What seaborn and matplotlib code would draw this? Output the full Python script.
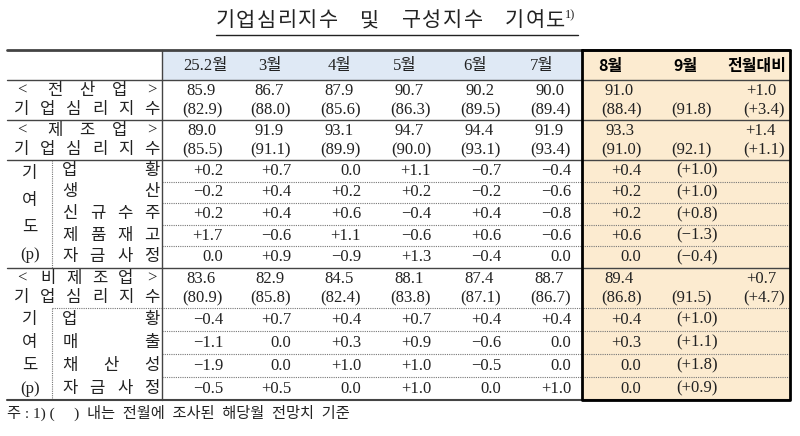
import matplotlib.pyplot as plt
import seaborn as sns

sns.set_theme(style="white")
plt.rcParams['font.family'] = ['Liberation Serif', 'Noto Sans CJK KR', 'DejaVu Sans']

months = ['25.2월', '3월', '4월', '5월', '6월', '7월']
recent = ['8월', '9월', '전월대비']

all_idx = ['85.9', '86.7', '87.9', '90.7', '90.2', '90.0']
all_fc = ['(82.9)', '(88.0)', '(85.6)', '(86.3)', '(89.5)', '(89.4)']
all_recent = ['91.0', '(88.4)', '(91.8)', '+1.0', '(+3.4)']

mfg_idx = ['89.0', '91.9', '93.1', '94.7', '94.4', '91.9']
mfg_fc = ['(85.5)', '(91.1)', '(89.9)', '(90.0)', '(93.1)', '(93.4)']
mfg_recent = ['93.3', '(91.0)', '(92.1)', '+1.4', '(+1.1)']

mfg_items = ['업황', '생산', '신규수주', '제품재고', '자금사정']
mfg_contrib = [
    ['+0.2', '+0.7', '0.0', '+1.1', '−0.7', '−0.4', '+0.4', '(+1.0)'],
    ['−0.2', '+0.4', '+0.2', '+0.2', '−0.2', '−0.6', '+0.2', '(+1.0)'],
    ['+0.2', '+0.4', '+0.6', '−0.4', '+0.4', '−0.8', '+0.2', '(+0.8)'],
    ['+1.7', '−0.6', '+1.1', '−0.6', '+0.6', '−0.6', '+0.6', '(−1.3)'],
    ['0.0', '+0.9', '−0.9', '+1.3', '−0.4', '0.0', '0.0', '(−0.4)'],
]

non_idx = ['83.6', '82.9', '84.5', '88.1', '87.4', '88.7']
non_fc = ['(80.9)', '(85.8)', '(82.4)', '(83.8)', '(87.1)', '(86.7)']
non_recent = ['89.4', '(86.8)', '(91.5)', '+0.7', '(+4.7)']

non_items = ['업황', '매출', '채산성', '자금사정']
non_contrib = [
    ['−0.4', '+0.7', '+0.4', '+0.7', '+0.4', '+0.4', '+0.4', '(+1.0)'],
    ['−1.1', '0.0', '+0.3', '+0.9', '−0.6', '0.0', '+0.3', '(+1.1)'],
    ['−1.9', '0.0', '+1.0', '+1.0', '−0.5', '0.0', '0.0', '(+1.8)'],
    ['−0.5', '+0.5', '0.0', '+1.0', '0.0', '+1.0', '0.0', '(+0.9)'],
]

fig = plt.figure(figsize=(8, 4.36), dpi=100)
ax = fig.add_axes([0, 0, 1, 1])
ax.set_xlim(0, 800)
ax.set_ylim(436, 0)
ax.axis('off')

FS = 12
ink = '#222222'
col_r = [223, 291, 361, 431, 501, 571]
col_c = [206, 270, 340, 405, 475, 542]

# backgrounds
ax.fill_between([162, 582], 50, 80, color='#dfe9f5', lw=0)
ax.fill_between([582, 790], 50, 400, color='#fcebd0', lw=0)

# title, letters spread out
title = '기업심리지수 및 구성지수 기여도'
tx0, tx1 = 225, 556
n = len(title)
for i, ch in enumerate(title):
    ax.text(tx0 + (tx1 - tx0) * i / (n - 1), 22, ch, ha='center', va='center',
            fontsize=15, color=ink)
ax.text(565, 15, '1)', ha='left', va='center', fontsize=9, color=ink)
ax.plot([216, 578], [35, 35], color=ink, lw=1)

# header
for c, m in zip(col_c, months):
    ax.text(c, 66, m, ha='center', va='center', fontsize=FS, color=ink)
for c, m in zip([610, 685, 757], recent):
    ax.text(c, 66, m, ha='center', va='center', fontsize=FS - 0.5, color='black',
            fontweight='bold', family=['Noto Sans CJK KR'])


def spread(text, x0, x1, y):
    n = len(text)
    for i, ch in enumerate(text):
        x = x0 + (x1 - x0) * i / (n - 1)
        ax.text(x, y, ch, ha='center', va='center', fontsize=FS, color=ink)


def index_block(y, title, idx, fc, rec):
    spread(['<'] + list(title) + ['>'], 22, 152, y + 11)
    spread('기업심리지수', 22, 152, y + 30)
    for r, a, b in zip(col_r, idx, fc):
        ax.text(r - 7, y + 11, a, ha='right', va='center', fontsize=FS, color=ink)
        ax.text(r, y + 30, b, ha='right', va='center', fontsize=FS, color=ink)
    ax.text(634, y + 11, rec[0], ha='right', va='center', fontsize=FS, color=ink)
    ax.text(642, y + 30, rec[1], ha='right', va='center', fontsize=FS, color=ink)
    ax.text(712, y + 30, rec[2], ha='right', va='center', fontsize=FS, color=ink)
    ax.text(776, y + 11, rec[3], ha='right', va='center', fontsize=FS, color=ink)
    ax.text(785, y + 30, rec[4], ha='right', va='center', fontsize=FS, color=ink)


def contrib_block(y0, h, items, vals):
    for i, (name, row) in enumerate(zip(items, vals)):
        yc = y0 + h * (i + 0.5)
        spread(name, 70, 152, yc)
        for r, v in zip(col_r, row[:6]):
            ax.text(r, yc, v, ha='right', va='center', fontsize=FS, color=ink)
        ax.text(641, yc, row[6], ha='right', va='center', fontsize=FS, color=ink)
        ax.text(718, yc, row[7], ha='right', va='center', fontsize=FS, color=ink)
        if i < len(items) - 1:
            ax.plot([162, 790], [y0 + h * (i + 1)] * 2, color='#777777', lw=0.8,
                    ls=(0, (1, 1)))
    n = len(items)
    for j, ch in enumerate(['기', '여', '도', '(p)']):
        yc = y0 + (h * n) * (j + 0.5) / 4
        ax.text(30, yc, ch, ha='center', va='center', fontsize=FS, color=ink)
    ax.plot([52, 52], [y0, y0 + h * n], color='#777777', lw=0.8, ls=(0, (1, 1)))


index_block(80, '전산업', all_idx, all_fc, all_recent)
index_block(120, '제조업', mfg_idx, mfg_fc, mfg_recent)
contrib_block(160, 21.6, mfg_items, mfg_contrib)
index_block(268, '비제조업', non_idx, non_fc, non_recent)
contrib_block(308, 23, non_items, non_contrib)

# rules
ax.plot([7, 790], [50, 50], color='#444444', lw=2)
for yy in [80, 120, 160, 268]:
    ax.plot([7, 790], [yy, yy], color='#444444', lw=1)
ax.plot([52, 790], [308, 308], color='#777777', lw=0.8, ls=(0, (1, 1)))
ax.plot([7, 790], [400, 400], color='#444444', lw=1.5)
ax.plot([162, 162], [50, 400], color='#444444', lw=1)
ax.plot([582, 790, 790, 582, 582], [50, 50, 400, 400, 50], color='black', lw=2)

ax.text(7, 413, '주 : 1) (     )  내는  전월에  조사된  해당월  전망치  기준', ha='left',
        va='center', fontsize=11, color=ink)

fig.savefig('out.png', dpi=100)
